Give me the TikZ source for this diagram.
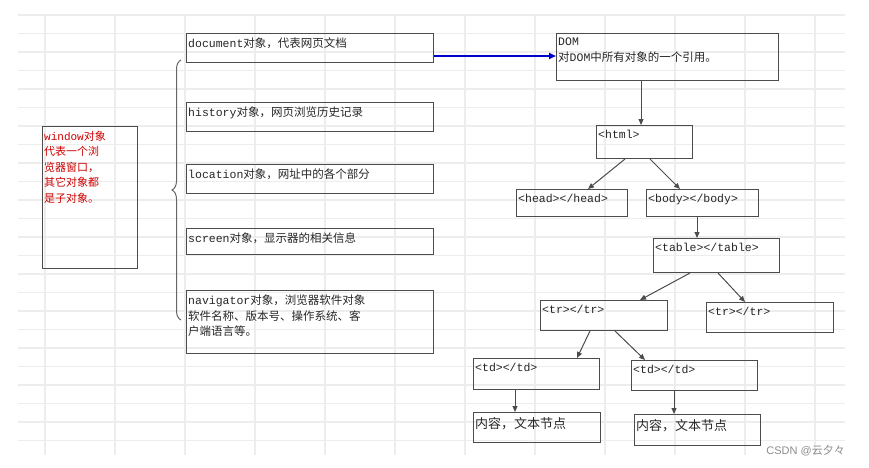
\documentclass[tikz,border=0pt]{standalone}
\usepackage{fontspec}
\newfontfamily\cjk{Noto Sans CJK SC}
\newfontfamily\mono{Liberation Mono}
\usetikzlibrary{arrows.meta,decorations.pathreplacing}
\begin{document}
\begin{tikzpicture}[x=1pt,y=-1pt,
  box/.style={draw=black!70,line width=1pt,anchor=north west,inner sep=0pt},
  txt/.style={anchor=north west,inner sep=0pt,align=left,font=\fontsize{11.5}{15.5}\selectfont,text=black!85},
  arr/.style={-{Triangle[length=6pt,width=5pt]},draw=black!70,line width=1pt}]
\useasboundingbox (0,0) rectangle (869,467);
% grid
\foreach \y in {15,33.5,52,70.5,89,107.5,126,144.5,163,181.5,200,218.5,237,255.5,274,292.5,311,329.5,348,366.5,385,403.5,422,440.5}
  \draw[black!7,line width=1.2pt] (18,\y) -- (845,\y);
\foreach \x in {45,115,185,255,325,395,465,535,605,675,745,815}
  \draw[black!7,line width=1.2pt] (\x,15) -- (\x,455);
% boxes
\newcommand\bx[7][]{\node[box,minimum width=#5,minimum height=#6] (#2) at (#3,#4) {};
  \node[txt,#1] (#2t) at ([shift={(2,5)}]#2.north west) {#7};}
\bx[text=red!80!black,font=\fontsize{11}{15.5}\selectfont]{win}{42}{126}{95}{142}{{\mono window}{\cjk 对象}\\{\cjk 代表一个浏}\\{\cjk 览器窗口，}\\{\cjk 其它对象都}\\{\cjk 是子对象。}}
\bx{doc}{186}{33}{247}{29}{{\mono document}{\cjk 对象，代表网页文档}}
\bx{his}{186}{102}{247}{29}{{\mono history}{\cjk 对象，网页浏览历史记录}}
\bx{loc}{186}{164}{247}{29}{{\mono location}{\cjk 对象，网址中的各个部分}}
\bx{scr}{186}{228}{247}{26}{{\mono screen}{\cjk 对象，显示器的相关信息}}
\bx{nav}{186}{290}{247}{63}{{\mono navigator}{\cjk 对象，浏览器软件对象}\\{\cjk 软件名称、版本号、操作系统、客}\\{\cjk 户端语言等。}}
\draw[black!60,line width=1pt,decoration={brace,amplitude=9pt},decorate] (181,320) -- (181,60);
% tree
\bx{dom}{556}{33}{222}{47}{{\mono DOM}\\{\cjk 对}{\mono DOM}{\cjk 中所有对象的一个引用。}}
\bx{html}{596}{125}{96}{33}{{\mono <html>}}
\bx{head}{516}{189}{111}{27}{{\mono <head></head>}}
\bx{body}{646}{189}{112}{27}{{\mono <body></body>}}
\bx{tab}{653}{238}{126}{34}{{\mono <table></table>}}
\bx{tra}{540}{300}{127}{30}{{\mono <tr></tr>}}
\bx{trb}{706}{302}{127}{30}{{\mono <tr></tr>}}
\bx{tda}{473}{358}{126}{31}{{\mono <td></td>}}
\bx{tdb}{631}{360}{126}{30}{{\mono <td></td>}}
\bx[font=\fontsize{13}{15}\selectfont]{ca}{473}{412}{127}{30}{{\cjk 内容，文本节点}}
\bx[font=\fontsize{13}{15}\selectfont]{cb}{634}{414}{126}{31}{{\cjk 内容，文本节点}}
\draw[-{Triangle[length=7pt,width=6pt]},blue!80!black,line width=1.8pt] (doc.east |- 0,56) -- (dom.west |- 0,56);
\draw[arr] (dom.south -| 641,0) -- (html.north -| 641,0);
\draw[arr] (html.south -| 625,0) -- (head.north -| 588,0);
\draw[arr] (html.south -| 650,0) -- (body.north -| 680,0);
\draw[arr] (body.south -| 697,0) -- (tab.north -| 697,0);
\draw[arr] (tab.south -| 690,0) -- (tra.north -| 640,0);
\draw[arr] (tab.south -| 718,0) -- (trb.north -| 745,0);
\draw[arr] (tra.south -| 590,0) -- (tda.north -| 577,0);
\draw[arr] (tra.south -| 615,0) -- (tdb.north -| 645,0);
\draw[arr] (tda.south -| 515,0) -- (ca.north -| 515,0);
\draw[arr] (tdb.south -| 674,0) -- (cb.north -| 674,0);
\node[anchor=east,inner sep=0pt,text=black!45,font=\fontsize{11}{12}\selectfont] (wm) at (845,451) {{\fontspec{Liberation Sans}CSDN @}{\cjk 云夕々}};
\end{tikzpicture}
\end{document}
